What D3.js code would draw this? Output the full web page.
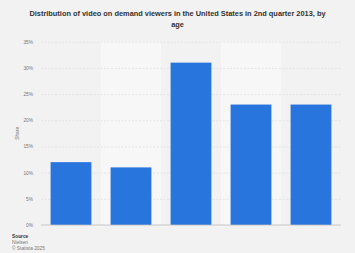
<!DOCTYPE html>
<html>
<head>
<meta charset="utf-8">
<script src="https://cdn.jsdelivr.net/npm/d3@7"></script>
<style>
  body { margin: 0; background: #f2f2f2; }
  svg { display: block; font-family: "Liberation Sans", Arial, sans-serif; }
</style>
</head>
<body>
<div id="chart"></div>
<script>
const categories = ["18-24", "25-34", "35-49", "50-64", "65+"];
const shares = [12, 11, 31, 23, 23];
const yTicks = [0, 5, 10, 15, 20, 25, 30, 35];
const titleLines = ["Distribution of video on demand viewers in the United States in 2nd quarter 2013, by", "age"];
const sourceLines = ["Source", "Nielsen", "© Statista 2025"];

const svgWidth = 355;
const svgHeight = 253;
const margin = { top: 41.7, right: 14, bottom: 28, left: 41 };
const width = svgWidth - margin.left - margin.right;
const height = svgHeight - margin.top - margin.bottom;

let svg = d3.select("#chart").append("svg").attr("width", svgWidth).attr("height", svgHeight);
svg.append("rect").attr("width", svgWidth).attr("height", svgHeight).attr("fill", "#f2f2f2");

// title
svg.append("g").selectAll("text")
  .data(titleLines)
  .enter()
  .append("text")
  .attr("x", svgWidth / 2)
  .attr("y", (d, i) => 15.5 + i * 11)
  .attr("text-anchor", "middle")
  .attr("font-size", 7.4)
  .attr("font-weight", "bold")
  .attr("fill", "#333")
  .text(d => d);

let chrtgrp = svg.append("g").attr("transform", `translate(${margin.left}, ${margin.top})`);

let xband = d3.scaleBand().domain(categories).range([0, width]).paddingInner(0.32).paddingOuter(0.16);
let ylin = d3.scaleLinear().domain([0, 35]).range([height, 0]);

// alternating column shading
chrtgrp.selectAll("rect.shade")
  .data(categories.filter((d, i) => i % 2 == 1))
  .enter()
  .append("rect")
  .classed("shade", true)
  .attr("x", d => xband(d) - xband.step() * xband.paddingInner() / 2)
  .attr("y", 0)
  .attr("width", xband.step())
  .attr("height", height)
  .attr("fill", "#f7f7f7");

// gridlines
let yAxis = chrtgrp.append("g")
  .call(d3.axisLeft(ylin).tickValues(yTicks).tickSize(-width).tickFormat(d => d + "%"));
yAxis.select(".domain").remove();
yAxis.selectAll(".tick line")
  .attr("stroke", "#d9d9d9")
  .attr("stroke-width", 0.6)
  .attr("stroke-dasharray", "2,1.5");
yAxis.selectAll(".tick text")
  .attr("x", -8)
  .attr("font-size", 4.8)
  .attr("fill", "#777");
yAxis.selectAll(".tick").filter(d => d == 0).select("line").remove();

// bars
chrtgrp.selectAll("rect.bar")
  .data(shares)
  .enter()
  .append("rect")
  .classed("bar", true)
  .attr("x", (d, i) => xband(categories[i]))
  .attr("y", d => ylin(d))
  .attr("width", xband.bandwidth())
  .attr("height", d => height - ylin(d))
  .attr("fill", "#2876dd");

// x axis line
chrtgrp.append("line")
  .attr("x1", 0).attr("x2", width)
  .attr("y1", height).attr("y2", height)
  .attr("stroke", "#bbb")
  .attr("stroke-width", 0.8);

// y axis title
svg.append("text")
  .attr("transform", `translate(19, ${margin.top + height / 2}) rotate(-90)`)
  .attr("text-anchor", "middle")
  .attr("font-size", 4.8)
  .attr("fill", "#777")
  .text("Share");

// source
svg.append("g").selectAll("text")
  .data(sourceLines)
  .enter()
  .append("text")
  .attr("x", 12)
  .attr("y", (d, i) => 237.5 + i * 6)
  .attr("font-size", 4.8)
  .attr("font-weight", (d, i) => i == 0 ? "bold" : "normal")
  .attr("fill", (d, i) => i == 0 ? "#333" : "#777")
  .text(d => d);
</script>
</body>
</html>
